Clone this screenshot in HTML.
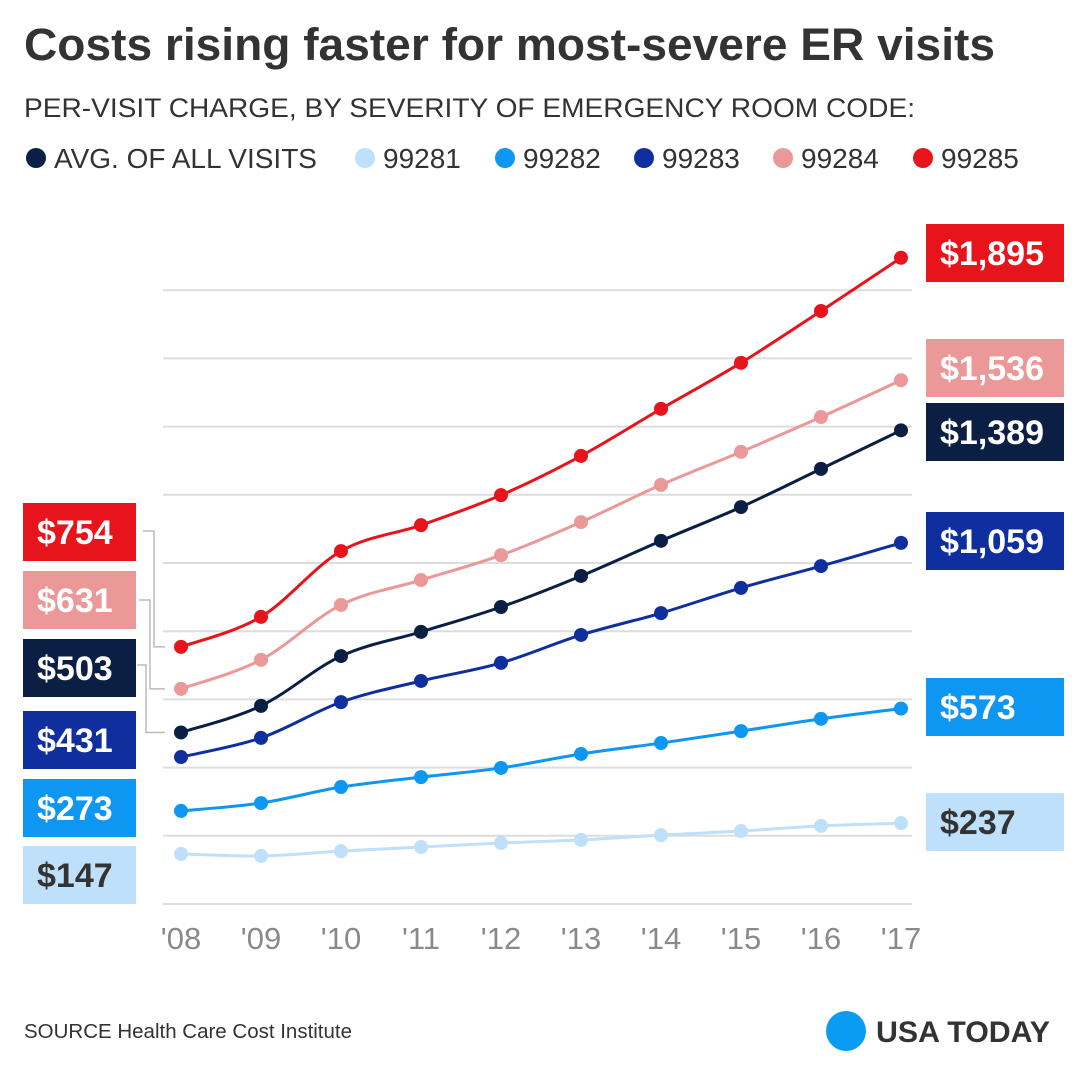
<!DOCTYPE html>
<html><head><meta charset="utf-8"><style>
body{margin:0;width:1080px;height:1080px;background:#fff;overflow:hidden;font-family:"Liberation Sans",sans-serif}
</style></head><body>
<svg width="1080" height="1080" xmlns="http://www.w3.org/2000/svg" style="font-family:'Liberation Sans',sans-serif">
<text x="24" y="60" font-size="45" font-weight="bold" fill="#333" textLength="971" lengthAdjust="spacingAndGlyphs">Costs rising faster for most-severe ER visits</text>
<text x="24" y="117" font-size="27" fill="#333" textLength="891" lengthAdjust="spacingAndGlyphs">PER-VISIT CHARGE, BY SEVERITY OF EMERGENCY ROOM CODE:</text>
<g id="legend"></g>
<g id="grid"></g>
<g id="conn"></g>
<g id="series"></g>
<g id="labels"></g>
<g id="xaxis"></g>
<text x="24" y="1038" font-size="20" fill="#333" textLength="328" lengthAdjust="spacingAndGlyphs">SOURCE Health Care Cost Institute</text>
<circle cx="846" cy="1031" r="20" fill="#0a9cf2"/>
<text x="876" y="1042" font-size="30" font-weight="bold" fill="#333" textLength="174" lengthAdjust="spacingAndGlyphs">USA TODAY</text>
</svg>
<script>
const years=["'08","'09","'10","'11","'12","'13","'14","'15","'16","'17"];
const names=["AVG. OF ALL VISITS","99281","99282","99283","99284","99285"];
const avg=[503,581,727,798,871,962,1065,1164,1276,1389];
const s99281=[147,141,155,167,179,188,202,214,229,237];
const s99282=[273,296,343,372,399,440,472,507,543,573];
const s99283=[431,487,592,654,707,789,853,927,991,1059];
const s99284=[631,716,877,950,1023,1120,1229,1326,1428,1536];
const s99285=[754,842,1035,1111,1199,1314,1452,1587,1739,1895];
const gridTicks=[0,200,400,600,800,1000,1200,1400,1600,1800];
const NS="http://www.w3.org/2000/svg";
function el(t,a,p){const e=document.createElementNS(NS,t);for(const k in a)e.setAttribute(k,a[k]);p.appendChild(e);return e;}
const X=i=>181+i*80, Y=v=>904-v*0.341;
const g=document.getElementById('grid');
gridTicks.forEach(t=>{const l=el('line',{x1:163,x2:912,y1:Y(t),y2:Y(t),stroke:'#ddd','stroke-width':2},g);

});
const xa=document.getElementById('xaxis');
years.forEach((y,i)=>{const t=el('text',{x:X(i),y:949,'font-size':31,fill:'#8a8a8a','text-anchor':'middle'},xa);t.textContent=y;

});
const series=[
 {d:s99281,c:'#bfe0fa',tc:'#333',n:'99281',lb:[23,846,136,904],rb:[926,793,1064,851]},
 {d:s99282,c:'#0d96f2',tc:'#fff',n:'99282',lb:[23,779,136,837],rb:[926,678,1064,736]},
 {d:s99283,c:'#0f2f9e',tc:'#fff',n:'99283',lb:[23,711,136,769],rb:[926,512,1064,570]},
 {d:avg,c:'#0b1f44',tc:'#fff',n:'avg',lb:[23,639,136,697],rb:[926,403,1064,461],cn:[137,665,146]},
 {d:s99284,c:'#eb9898',tc:'#fff',n:'99284',lb:[23,571,136,629],rb:[926,339,1064,397],cn:[139,600,150]},
 {d:s99285,c:'#e8141b',tc:'#fff',n:'99285',lb:[23,503,136,561],rb:[926,224,1064,282],cn:[143,531,154]}];
function fmt(v){return '$'+v.toLocaleString('en-US');}
function path(d){const p=d.map((v,i)=>[X(i),Y(v)]);let s='M'+p[0];
for(let i=0;i<p.length-1;i++){const p0=p[Math.max(0,i-1)],p1=p[i],p2=p[i+1],p3=p[Math.min(p.length-1,i+2)];
s+=' C'+(p1[0]+(p2[0]-p0[0])/6)+','+(p1[1]+(p2[1]-p0[1])/6)+' '+(p2[0]-(p3[0]-p1[0])/6)+','+(p2[1]-(p3[1]-p1[1])/6)+' '+p2[0]+','+p2[1];}return s;}
const sg=document.getElementById('series'),lg=document.getElementById('labels'),cg=document.getElementById('conn');
series.forEach(s=>{
 const p=el('path',{d:path(s.d),fill:'none',stroke:s.c,'stroke-width':3},sg);
 
 
 s.d.forEach((v,i)=>{const c=el('circle',{cx:X(i),cy:Y(v),r:7,fill:s.c},sg);
 
 });
 if(s.cn){const y0=Y(s.d[0]);const pl=el('polyline',{points:`${s.cn[0]},${s.cn[1]} ${s.cn[2]},${s.cn[1]} ${s.cn[2]},${y0} 165,${y0}`,fill:'none',stroke:'#bbb','stroke-width':1.5},cg);
 
 }
 [[s.lb,s.d[0],'start-label-'],[s.rb,s.d[s.d.length-1],'end-label-']].forEach(([b,v,nm])=>{
  const r=el('rect',{x:b[0],y:b[1],width:b[2]-b[0],height:b[3]-b[1],fill:s.c},lg);
  
  
  const t=el('text',{x:b[0]+14,y:(b[1]+b[3])/2+12,'font-size':34,'font-weight':'bold',fill:s.tc},lg);t.textContent=fmt(v);
  
  });
});
const lgd=document.getElementById('legend');
const legCols=['#0b1f44','#bfe0fa','#0d96f2','#0f2f9e','#eb9898','#e8141b'];
const legX=[24,353,493,632,771,911];
names.forEach((n,i)=>{const c=el('circle',{cx:legX[i]+12,cy:158,r:10,fill:legCols[i]},lgd);


const t=el('text',{x:legX[i]+30,y:168,'font-size':28,fill:'#333'},lgd);t.textContent=n;

});
</script>
</body></html>
